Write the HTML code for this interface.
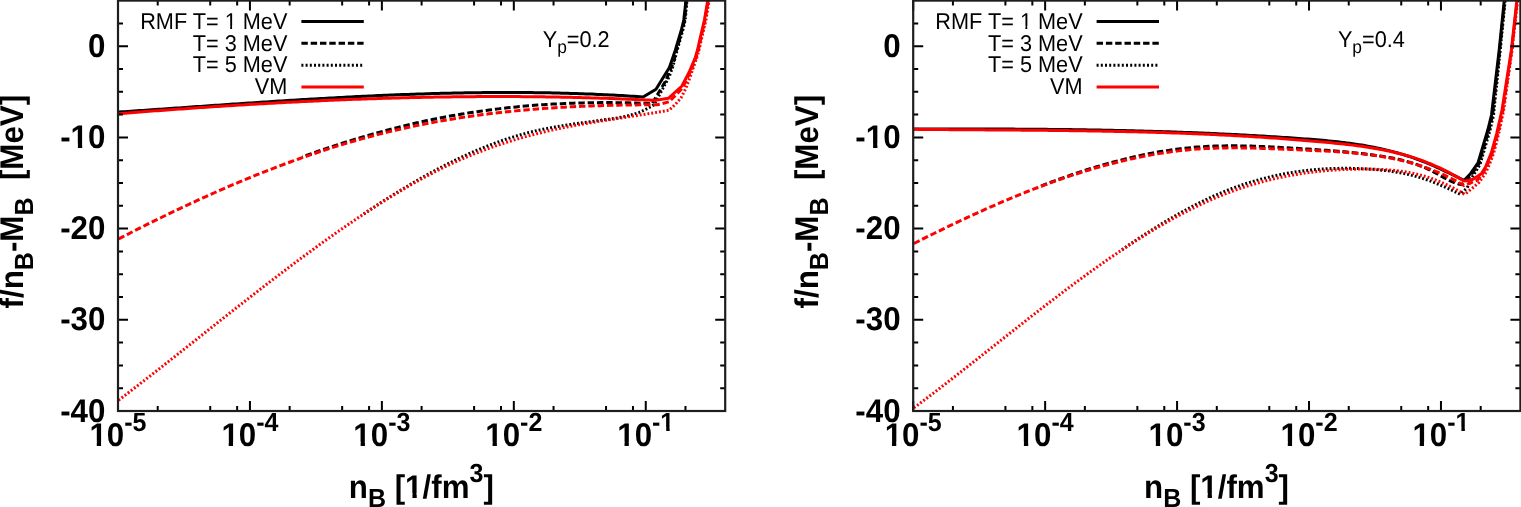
<!DOCTYPE html>
<html><head><meta charset="utf-8"><title>f/nB-MB vs nB</title>
<style>html,body{margin:0;padding:0;background:#fff;overflow:hidden}svg{display:block}text{text-rendering:geometricPrecision}</style></head>
<body><svg width="1521" height="507" viewBox="0 0 1521 507">
<rect width="1521" height="507" fill="#fff"/>
<clipPath id="c0"><rect x="118" y="0.1" width="607.2" height="410.9"/></clipPath>
<g clip-path="url(#c0)">
<path d="M118.9 112.05 L121.91 111.84 L124.93 111.64 L127.94 111.43 L130.95 111.23 L133.96 111.02 L136.98 110.81 L139.99 110.61 L143 110.4 L146.01 110.19 L149.03 109.98 L152.04 109.77 L155.05 109.56 L158.06 109.35 L161.08 109.14 L164.09 108.93 L167.1 108.72 L170.11 108.51 L173.13 108.3 L176.14 108.09 L179.15 107.88 L182.17 107.67 L185.18 107.46 L188.19 107.24 L191.2 107.03 L194.22 106.82 L197.23 106.61 L200.24 106.4 L203.25 106.19 L206.27 105.98 L209.28 105.77 L212.29 105.56 L215.3 105.35 L218.32 105.15 L221.33 104.94 L224.34 104.73 L227.36 104.52 L230.37 104.32 L233.38 104.11 L236.39 103.9 L239.41 103.7 L242.42 103.5 L245.43 103.29 L248.44 103.09 L251.46 102.89 L254.47 102.69 L257.48 102.49 L260.49 102.29 L263.51 102.09 L266.52 101.89 L269.53 101.7 L272.54 101.5 L275.56 101.31 L278.57 101.12 L281.58 100.92 L284.6 100.73 L287.61 100.55 L290.62 100.36 L293.63 100.17 L296.65 99.99 L299.66 99.8 L302.67 99.62 L305.68 99.44 L308.7 99.26 L311.71 99.08 L314.72 98.9 L317.73 98.73 L320.75 98.56 L323.76 98.38 L326.77 98.21 L329.79 98.05 L332.8 97.88 L335.81 97.71 L338.82 97.55 L341.84 97.39 L344.85 97.23 L347.86 97.08 L350.87 96.92 L353.89 96.77 L356.9 96.62 L359.91 96.47 L362.92 96.32 L365.94 96.18 L368.95 96.03 L371.96 95.89 L374.97 95.76 L377.99 95.62 L381 95.49 L384.01 95.36 L387.03 95.23 L390.04 95.1 L393.05 94.98 L396.06 94.86 L399.08 94.74 L402.09 94.62 L405.1 94.51 L408.11 94.4 L411.13 94.29 L414.14 94.19 L417.15 94.08 L420.16 93.99 L423.18 93.89 L426.19 93.79 L429.2 93.7 L432.21 93.62 L435.23 93.53 L438.24 93.45 L441.25 93.37 L444.27 93.29 L447.28 93.22 L450.29 93.15 L453.3 93.09 L456.32 93.02 L459.33 92.96 L462.34 92.91 L465.35 92.85 L468.37 92.81 L471.38 92.76 L474.39 92.72 L477.4 92.68 L480.42 92.64 L483.43 92.61 L486.44 92.58 L489.46 92.56 L492.47 92.53 L495.48 92.52 L498.49 92.5 L501.51 92.49 L504.52 92.49 L507.53 92.48 L510.54 92.49 L513.56 92.49 L516.57 92.5 L519.58 92.51 L522.59 92.53 L525.61 92.55 L528.62 92.58 L531.63 92.61 L534.64 92.64 L537.66 92.68 L540.67 92.72 L543.68 92.77 L546.7 92.82 L549.71 92.87 L552.72 92.93 L555.73 93 L558.75 93.07 L561.76 93.14 L564.77 93.22 L567.78 93.3 L570.8 93.39 L573.81 93.48 L576.82 93.57 L579.83 93.67 L582.85 93.78 L585.86 93.89 L588.87 94 L591.89 94.12 L594.9 94.25 L597.91 94.38 L600.92 94.51 L603.94 94.65 L606.95 94.8 L609.96 94.95 L612.97 95.1 L615.99 95.26 L619 95.43 L622.01 95.6 L625.02 95.77 L628.04 95.95 L631.05 96.14 L634.06 96.33 L637.07 96.53 L640.09 96.73 L643.1 96.94 L656 89.2 L669.4 67.5 L675.4 50 L681.5 29.4 L683.8 20 L686 0 L686.4 -2" stroke="#000" stroke-width="3.0" fill="none" stroke-linejoin="round"/>
<path d="M302.43 156.87 L305.44 155.78 L308.45 154.7 L311.47 153.63 L314.48 152.57 L317.49 151.52 L320.51 150.48 L323.52 149.45 L326.54 148.43 L329.55 147.42 L332.56 146.42 L335.58 145.43 L338.59 144.45 L341.6 143.48 L344.62 142.52 L347.63 141.57 L350.64 140.64 L353.66 139.71 L356.67 138.79 L359.68 137.89 L362.7 136.99 L365.71 136.11 L368.73 135.23 L371.74 134.37 L374.75 133.52 L377.77 132.68 L380.78 131.85 L383.79 131.04 L386.81 130.23 L389.82 129.44 L392.83 128.66 L395.85 127.89 L398.86 127.13 L401.87 126.38 L404.89 125.64 L407.9 124.92 L410.92 124.21 L413.93 123.51 L416.94 122.83 L419.96 122.15 L422.97 121.49 L425.98 120.84 L429 120.2 L432.01 119.58 L435.02 118.97 L438.04 118.37 L441.05 117.78 L444.06 117.21 L447.08 116.64 L450.09 116.09 L453.11 115.55 L456.12 115.02 L459.13 114.51 L462.15 114.01 L465.16 113.51 L468.17 113.03 L471.19 112.57 L474.2 112.11 L477.21 111.66 L480.23 111.23 L483.24 110.81 L486.25 110.4 L489.27 110 L492.28 109.61 L495.29 109.23 L498.31 108.87 L501.32 108.51 L504.34 108.17 L507.35 107.83 L510.36 107.51 L513.38 107.2 L516.39 106.9 L519.4 106.61 L522.42 106.33 L525.43 106.06 L528.44 105.8 L531.46 105.56 L534.47 105.32 L537.48 105.09 L540.5 104.88 L543.51 104.67 L546.53 104.47 L549.54 104.29 L552.55 104.11 L555.57 103.95 L558.58 103.79 L561.59 103.65 L564.61 103.51 L567.62 103.38 L570.63 103.27 L573.65 103.16 L576.66 103.06 L579.67 102.97 L582.69 102.9 L585.7 102.83 L588.72 102.77 L591.73 102.72 L594.74 102.68 L597.76 102.64 L600.77 102.62 L603.78 102.61 L606.8 102.6 L609.81 102.61 L612.82 102.62 L615.84 102.64 L618.85 102.67 L621.86 102.71 L624.88 102.76 L627.89 102.82 L630.91 102.89 L633.92 102.96 L636.93 103.04 L639.95 103.13 L642.96 103.23 L645.97 103.34 L648.99 103.45 L652 103.58 L657.5 94.5 L665.5 81.3 L673.8 61.2 L676.5 50 L682.3 29.4 L684.6 20 L686.6 0 L687 -2" stroke="#000" stroke-width="3.0" fill="none" stroke-dasharray="6.4 2.9" stroke-dashoffset="201.18"/>
<path d="M362.27 214.96 L365.28 212.94 L368.29 210.94 L371.3 208.94 L374.31 206.96 L377.32 205 L380.33 203.05 L383.34 201.11 L386.35 199.19 L389.36 197.28 L392.37 195.39 L395.38 193.51 L398.39 191.66 L401.4 189.82 L404.41 187.99 L407.42 186.18 L410.43 184.4 L413.44 182.63 L416.45 180.88 L419.46 179.14 L422.46 177.43 L425.47 175.74 L428.48 174.07 L431.49 172.42 L434.5 170.79 L437.51 169.18 L440.52 167.59 L443.53 166.03 L446.54 164.49 L449.55 162.97 L452.56 161.47 L455.57 160 L458.58 158.55 L461.59 157.13 L464.6 155.73 L467.61 154.36 L470.62 153.01 L473.63 151.69 L476.64 150.39 L479.65 149.13 L482.66 147.89 L485.67 146.67 L488.67 145.49 L491.68 144.33 L494.69 143.2 L497.7 142.1 L500.71 141.03 L503.72 139.99 L506.73 138.98 L509.74 138 L512.75 137.06 L515.76 136.14 L518.77 135.25 L521.78 134.4 L524.79 133.58 L527.8 132.79 L530.81 132.04 L533.82 131.31 L536.83 130.62 L539.84 129.96 L542.85 129.32 L545.86 128.71 L548.87 128.12 L551.88 127.55 L554.88 127.01 L557.89 126.48 L560.9 125.98 L563.91 125.49 L566.92 125.01 L569.93 124.55 L572.94 124.11 L575.95 123.67 L578.96 123.24 L581.97 122.82 L584.98 122.41 L587.99 122 L591 121.6 L594.01 121.19 L597.02 120.79 L600.03 120.39 L603.04 119.98 L606.05 119.58 L609.06 119.16 L612.07 118.73 L615.08 118.28 L618.09 117.79 L621.09 117.25 L624.1 116.65 L627.11 115.98 L630.12 115.22 L633.13 114.36 L636.14 113.39 L639.15 112.29 L642.16 111.06 L645.17 109.69 L648.18 108.15 L651.19 106.44 L654.2 104.54 L658.3 96.9 L662.9 88.4 L669.2 76.6 L672.7 67.1 L677.2 50 L683 29.4 L685.2 20 L687 0 L687.4 -2" stroke="#000" stroke-width="3.0" fill="none" stroke-dasharray="1.9 2.0" stroke-dashoffset="306.28"/>
<path d="M118.9 113.68 L121.91 113.44 L124.92 113.2 L127.94 112.96 L130.95 112.72 L133.96 112.48 L136.97 112.25 L139.98 112.01 L142.99 111.78 L146.01 111.55 L149.02 111.32 L152.03 111.09 L155.04 110.86 L158.05 110.64 L161.07 110.41 L164.08 110.19 L167.09 109.97 L170.1 109.75 L173.11 109.53 L176.12 109.31 L179.14 109.09 L182.15 108.88 L185.16 108.66 L188.17 108.45 L191.18 108.24 L194.19 108.03 L197.21 107.82 L200.22 107.62 L203.23 107.41 L206.24 107.21 L209.25 107.01 L212.27 106.81 L215.28 106.61 L218.29 106.41 L221.3 106.22 L224.31 106.02 L227.32 105.83 L230.34 105.64 L233.35 105.45 L236.36 105.27 L239.37 105.08 L242.38 104.9 L245.4 104.71 L248.41 104.53 L251.42 104.36 L254.43 104.18 L257.44 104 L260.45 103.83 L263.47 103.66 L266.48 103.49 L269.49 103.32 L272.5 103.15 L275.51 102.99 L278.53 102.83 L281.54 102.66 L284.55 102.51 L287.56 102.35 L290.57 102.19 L293.58 102.04 L296.6 101.89 L299.61 101.74 L302.62 101.59 L305.63 101.44 L308.64 101.3 L311.66 101.16 L314.67 101.02 L317.68 100.88 L320.69 100.74 L323.7 100.61 L326.71 100.47 L329.73 100.34 L332.74 100.21 L335.75 100.09 L338.76 99.96 L341.77 99.84 L344.78 99.72 L347.8 99.6 L350.81 99.49 L353.82 99.37 L356.83 99.26 L359.84 99.15 L362.86 99.04 L365.87 98.94 L368.88 98.83 L371.89 98.73 L374.9 98.63 L377.91 98.53 L380.93 98.44 L383.94 98.35 L386.95 98.26 L389.96 98.17 L392.97 98.08 L395.99 98 L399 97.92 L402.01 97.84 L405.02 97.76 L408.03 97.69 L411.04 97.61 L414.06 97.54 L417.07 97.47 L420.08 97.41 L423.09 97.35 L426.1 97.28 L429.12 97.23 L432.13 97.17 L435.14 97.12 L438.15 97.06 L441.16 97.02 L444.17 96.97 L447.19 96.92 L450.2 96.88 L453.21 96.84 L456.22 96.81 L459.23 96.77 L462.24 96.74 L465.26 96.71 L468.27 96.68 L471.28 96.66 L474.29 96.64 L477.3 96.62 L480.32 96.6 L483.33 96.59 L486.34 96.58 L489.35 96.57 L492.36 96.56 L495.37 96.56 L498.39 96.56 L501.4 96.56 L504.41 96.56 L507.42 96.57 L510.43 96.58 L513.45 96.59 L516.46 96.6 L519.47 96.62 L522.48 96.64 L525.49 96.67 L528.5 96.69 L531.52 96.72 L534.53 96.75 L537.54 96.78 L540.55 96.82 L543.56 96.86 L546.58 96.9 L549.59 96.95 L552.6 97 L555.61 97.05 L558.62 97.1 L561.63 97.16 L564.65 97.21 L567.66 97.28 L570.67 97.34 L573.68 97.41 L576.69 97.48 L579.71 97.55 L582.72 97.63 L585.73 97.71 L588.74 97.79 L591.75 97.88 L594.76 97.97 L597.78 98.06 L600.79 98.15 L603.8 98.25 L606.81 98.35 L609.82 98.45 L612.83 98.56 L615.85 98.67 L618.86 98.78 L621.87 98.9 L624.88 99.02 L627.89 99.14 L630.91 99.26 L633.92 99.39 L636.93 99.52 L639.94 99.66 L642.95 99.8 L645.96 99.94 L648.98 100.08 L651.99 100.23 L655 100.38 L668.4 98.3 L681.9 86 L689 72.5 L695.2 57.8 L697.5 50 L699.6 40.5 L704.4 20 L707.8 0 L708.2 -2" stroke="#f00" stroke-width="3.0" fill="none" stroke-linejoin="round"/>
<path d="M118.6 238.95 L121.61 237.39 L124.62 235.84 L127.63 234.3 L130.64 232.76 L133.65 231.23 L136.66 229.7 L139.67 228.18 L142.68 226.67 L145.69 225.17 L148.7 223.67 L151.71 222.17 L154.72 220.69 L157.73 219.21 L160.74 217.74 L163.75 216.27 L166.76 214.81 L169.77 213.36 L172.78 211.92 L175.79 210.48 L178.8 209.05 L181.81 207.63 L184.82 206.22 L187.83 204.81 L190.84 203.41 L193.85 202.02 L196.86 200.63 L199.87 199.26 L202.88 197.89 L205.89 196.53 L208.9 195.18 L211.91 193.83 L214.92 192.5 L217.93 191.17 L220.94 189.85 L223.95 188.54 L226.96 187.24 L229.97 185.95 L232.98 184.66 L235.99 183.38 L239 182.12 L242.01 180.86 L245.02 179.61 L248.03 178.37 L251.04 177.14 L254.05 175.92 L257.06 174.7 L260.07 173.5 L263.08 172.31 L266.09 171.12 L269.1 169.95 L272.11 168.78 L275.12 167.63 L278.13 166.48 L281.14 165.34 L284.15 164.22 L287.16 163.1 L290.17 162 L293.18 160.9 L296.19 159.82 L299.2 158.74 L302.21 157.68 L305.22 156.62 L308.23 155.58 L311.24 154.55 L314.25 153.52 L317.26 152.51 L320.27 151.51 L323.28 150.52 L326.29 149.54 L329.3 148.58 L332.31 147.62 L335.32 146.67 L338.33 145.74 L341.34 144.82 L344.35 143.91 L347.36 143.01 L350.37 142.12 L353.38 141.24 L356.39 140.38 L359.4 139.52 L362.41 138.68 L365.42 137.86 L368.43 137.04 L371.44 136.23 L374.45 135.44 L377.46 134.66 L380.47 133.89 L383.48 133.14 L386.49 132.39 L389.51 131.66 L392.52 130.95 L395.53 130.24 L398.54 129.54 L401.55 128.86 L404.56 128.19 L407.57 127.53 L410.58 126.89 L413.59 126.25 L416.6 125.63 L419.61 125.01 L422.62 124.41 L425.63 123.82 L428.64 123.24 L431.65 122.67 L434.66 122.12 L437.67 121.57 L440.68 121.03 L443.69 120.51 L446.7 119.99 L449.71 119.49 L452.72 119 L455.73 118.51 L458.74 118.04 L461.75 117.58 L464.76 117.12 L467.77 116.68 L470.78 116.25 L473.79 115.82 L476.8 115.41 L479.81 115.01 L482.82 114.61 L485.83 114.23 L488.84 113.85 L491.85 113.48 L494.86 113.12 L497.87 112.78 L500.88 112.44 L503.89 112.1 L506.9 111.78 L509.91 111.47 L512.92 111.16 L515.93 110.87 L518.94 110.58 L521.95 110.3 L524.96 110.03 L527.97 109.76 L530.98 109.51 L533.99 109.26 L537 109.02 L540.01 108.79 L543.02 108.56 L546.03 108.35 L549.04 108.14 L552.05 107.93 L555.06 107.74 L558.07 107.55 L561.08 107.37 L564.09 107.2 L567.1 107.03 L570.11 106.87 L573.12 106.72 L576.13 106.57 L579.14 106.43 L582.15 106.3 L585.16 106.17 L588.17 106.05 L591.18 105.93 L594.19 105.83 L597.2 105.72 L600.21 105.63 L603.22 105.54 L606.23 105.45 L609.24 105.37 L612.25 105.3 L615.26 105.23 L618.27 105.17 L621.28 105.11 L624.29 105.06 L627.3 105.01 L630.31 104.97 L633.32 104.93 L636.33 104.9 L639.34 104.87 L642.35 104.85 L645.36 104.83 L648.37 104.81 L651.38 104.8 L654.39 104.8 L657.4 104.8 L669.2 101.8 L682.4 88.2 L689.6 73.5 L695.8 58.5 L698.2 50.5 L700.3 41 L705 20.2 L708.5 0 L708.9 -2" stroke="#f00" stroke-width="3.0" fill="none" stroke-dasharray="6.4 2.9"/>
<path d="M118.5 400.31 L121.51 398.02 L124.52 395.72 L127.53 393.42 L130.54 391.11 L133.55 388.79 L136.56 386.46 L139.57 384.13 L142.57 381.8 L145.58 379.46 L148.59 377.12 L151.6 374.77 L154.61 372.42 L157.62 370.06 L160.63 367.7 L163.64 365.34 L166.65 362.97 L169.66 360.6 L172.67 358.23 L175.68 355.86 L178.69 353.48 L181.7 351.1 L184.7 348.72 L187.71 346.34 L190.72 343.96 L193.73 341.58 L196.74 339.2 L199.75 336.81 L202.76 334.43 L205.77 332.05 L208.78 329.66 L211.79 327.28 L214.8 324.9 L217.81 322.52 L220.82 320.15 L223.83 317.77 L226.83 315.4 L229.84 313.03 L232.85 310.66 L235.86 308.29 L238.87 305.93 L241.88 303.57 L244.89 301.22 L247.9 298.86 L250.91 296.52 L253.92 294.17 L256.93 291.84 L259.94 289.5 L262.95 287.18 L265.96 284.86 L268.96 282.54 L271.97 280.23 L274.98 277.92 L277.99 275.63 L281 273.34 L284.01 271.05 L287.02 268.78 L290.03 266.51 L293.04 264.25 L296.05 262 L299.06 259.75 L302.07 257.52 L305.08 255.29 L308.09 253.07 L311.09 250.87 L314.1 248.67 L317.11 246.48 L320.12 244.3 L323.13 242.14 L326.14 239.98 L329.15 237.83 L332.16 235.7 L335.17 233.58 L338.18 231.47 L341.19 229.37 L344.2 227.28 L347.21 225.21 L350.22 223.15 L353.22 221.1 L356.23 219.06 L359.24 217.04 L362.25 215.04 L365.26 213.04 L368.27 211.06 L371.28 209.1 L374.29 207.15 L377.3 205.22 L380.31 203.3 L383.32 201.4 L386.33 199.52 L389.34 197.65 L392.35 195.8 L395.35 193.97 L398.36 192.16 L401.37 190.37 L404.38 188.59 L407.39 186.84 L410.4 185.11 L413.41 183.4 L416.42 181.71 L419.43 180.04 L422.44 178.39 L425.45 176.77 L428.46 175.17 L431.47 173.59 L434.48 172.04 L437.48 170.52 L440.49 169.01 L443.5 167.54 L446.51 166.09 L449.52 164.66 L452.53 163.26 L455.54 161.89 L458.55 160.55 L461.56 159.23 L464.57 157.93 L467.58 156.66 L470.59 155.42 L473.6 154.19 L476.61 153 L479.61 151.82 L482.62 150.67 L485.63 149.55 L488.64 148.45 L491.65 147.37 L494.66 146.31 L497.67 145.27 L500.68 144.26 L503.69 143.27 L506.7 142.3 L509.71 141.35 L512.72 140.42 L515.73 139.51 L518.74 138.62 L521.74 137.76 L524.75 136.91 L527.76 136.08 L530.77 135.27 L533.78 134.48 L536.79 133.71 L539.8 132.96 L542.81 132.23 L545.82 131.51 L548.83 130.81 L551.84 130.13 L554.85 129.46 L557.86 128.82 L560.87 128.19 L563.87 127.57 L566.88 126.97 L569.89 126.39 L572.9 125.82 L575.91 125.26 L578.92 124.72 L581.93 124.18 L584.94 123.66 L587.95 123.15 L590.96 122.65 L593.97 122.15 L596.98 121.67 L599.99 121.19 L603 120.71 L606 120.24 L609.01 119.78 L612.02 119.32 L615.03 118.86 L618.04 118.41 L621.05 117.95 L624.06 117.5 L627.07 117.04 L630.08 116.59 L633.09 116.13 L636.1 115.67 L639.11 115.2 L642.12 114.73 L645.13 114.26 L648.13 113.77 L651.14 113.29 L654.15 112.79 L657.16 112.29 L660.17 111.77 L663.18 111.25 L666.19 110.71 L669.2 110.16 L675.5 104.2 L681 97.9 L685.8 88.4 L689.7 78.2 L693.5 67 L697 57 L699 50 L701 41 L705.8 20.4 L709.2 0 L709.6 -2" stroke="#f00" stroke-width="3.0" fill="none" stroke-dasharray="1.9 2.0"/>
</g>
<path d="M118 411 v-10 M118 0.6 v10 M157.72 411 v-5 M157.72 0.6 v5 M210.22 411 v-5 M210.22 0.6 v5 M237.15 411 v-5 M237.15 0.6 v5 M249.94 411 v-10 M249.94 0.6 v10 M289.66 411 v-5 M289.66 0.6 v5 M342.16 411 v-5 M342.16 0.6 v5 M369.09 411 v-5 M369.09 0.6 v5 M381.88 411 v-10 M381.88 0.6 v10 M421.6 411 v-5 M421.6 0.6 v5 M474.1 411 v-5 M474.1 0.6 v5 M501.03 411 v-5 M501.03 0.6 v5 M513.82 411 v-10 M513.82 0.6 v10 M553.54 411 v-5 M553.54 0.6 v5 M606.04 411 v-5 M606.04 0.6 v5 M632.97 411 v-5 M632.97 0.6 v5 M645.76 411 v-10 M645.76 0.6 v10 M685.48 411 v-5 M685.48 0.6 v5 M118 23.4 h5 M725.2 23.4 h-5 M118 46.2 h10 M725.2 46.2 h-10 M118 69 h5 M725.2 69 h-5 M118 91.8 h5 M725.2 91.8 h-5 M118 114.6 h5 M725.2 114.6 h-5 M118 137.4 h10 M725.2 137.4 h-10 M118 160.2 h5 M725.2 160.2 h-5 M118 183 h5 M725.2 183 h-5 M118 205.8 h5 M725.2 205.8 h-5 M118 228.6 h10 M725.2 228.6 h-10 M118 251.4 h5 M725.2 251.4 h-5 M118 274.2 h5 M725.2 274.2 h-5 M118 297 h5 M725.2 297 h-5 M118 319.8 h10 M725.2 319.8 h-10 M118 342.6 h5 M725.2 342.6 h-5 M118 365.4 h5 M725.2 365.4 h-5 M118 388.2 h5 M725.2 388.2 h-5" stroke="#000" stroke-width="2" fill="none"/>
<rect x="118" y="0.6" width="607.2" height="410.4" fill="none" stroke="#1e1e1e" stroke-width="2.2"/>
<text transform="translate(105.4 56.7) scale(1 1.05)" text-anchor="end" style="font-family:'Liberation Sans',Arial,sans-serif;font-weight:bold;font-size:31.3px">0</text>
<text transform="translate(105.4 147.9) scale(1 1.05)" text-anchor="end" style="font-family:'Liberation Sans',Arial,sans-serif;font-weight:bold;font-size:31.3px">-10</text>
<text transform="translate(105.4 239.1) scale(1 1.05)" text-anchor="end" style="font-family:'Liberation Sans',Arial,sans-serif;font-weight:bold;font-size:31.3px">-20</text>
<text transform="translate(105.4 330.3) scale(1 1.05)" text-anchor="end" style="font-family:'Liberation Sans',Arial,sans-serif;font-weight:bold;font-size:31.3px">-30</text>
<text transform="translate(105.4 421.5) scale(1 1.05)" text-anchor="end" style="font-family:'Liberation Sans',Arial,sans-serif;font-weight:bold;font-size:31.3px">-40</text>
<text transform="translate(89.46 446.3) scale(1 1.05)" style="font-family:'Liberation Sans',Arial,sans-serif;font-weight:bold;font-size:31.3px">10<tspan dy="-14.29" style="font-size:25.04px">-5</tspan></text>
<text transform="translate(221.4 446.3) scale(1 1.05)" style="font-family:'Liberation Sans',Arial,sans-serif;font-weight:bold;font-size:31.3px">10<tspan dy="-14.29" style="font-size:25.04px">-4</tspan></text>
<text transform="translate(353.34 446.3) scale(1 1.05)" style="font-family:'Liberation Sans',Arial,sans-serif;font-weight:bold;font-size:31.3px">10<tspan dy="-14.29" style="font-size:25.04px">-3</tspan></text>
<text transform="translate(485.28 446.3) scale(1 1.05)" style="font-family:'Liberation Sans',Arial,sans-serif;font-weight:bold;font-size:31.3px">10<tspan dy="-14.29" style="font-size:25.04px">-2</tspan></text>
<text transform="translate(617.22 446.3) scale(1 1.05)" style="font-family:'Liberation Sans',Arial,sans-serif;font-weight:bold;font-size:31.3px">10<tspan dy="-14.29" style="font-size:25.04px">-1</tspan></text>
<text transform="translate(348.8 497.6) scale(1 1.05)" style="font-family:'Liberation Sans',Arial,sans-serif;font-weight:bold;font-size:31.3px">n<tspan dy="8.48" style="font-size:25.04px">B</tspan><tspan dy="-8.48"> [1/fm</tspan><tspan dy="-14.48" style="font-size:25.04px">3</tspan><tspan dy="14.48">]</tspan></text>
<text transform="translate(23.2 308.4) rotate(-90) scale(1 1.05)" x="0" y="0" style="font-family:'Liberation Sans',Arial,sans-serif;font-weight:bold;font-size:31.3px;white-space:pre" xml:space="preserve">f/n<tspan dy="9.52" style="font-size:25.04px">B</tspan><tspan dy="-9.52">-M</tspan><tspan dy="9.52" style="font-size:25.04px">B</tspan><tspan dy="-9.52">  [MeV]</tspan></text>
<text transform="translate(287.4 28.8) scale(1 1.05)" text-anchor="end" style="font-family:'Liberation Sans',Arial,sans-serif;font-size:21.7px">RMF T= 1 MeV</text>
<text transform="translate(287.4 50.5) scale(1 1.05)" text-anchor="end" style="font-family:'Liberation Sans',Arial,sans-serif;font-size:21.7px">T= 3 MeV</text>
<text transform="translate(287.4 72.2) scale(1 1.05)" text-anchor="end" style="font-family:'Liberation Sans',Arial,sans-serif;font-size:21.7px">T= 5 MeV</text>
<text transform="translate(287.4 93.9) scale(1 1.05)" text-anchor="end" style="font-family:'Liberation Sans',Arial,sans-serif;font-size:21.7px">VM</text>
<path d="M301.4 21.6 H363.8" stroke="#000" stroke-width="3.0" fill="none"/>
<path d="M301.4 43.3 H363.8" stroke="#000" stroke-dasharray="6.4 2.9" stroke-width="3.0" fill="none"/>
<path d="M301.4 65.2 H363.8" stroke="#000" stroke-dasharray="2.0 2.2" stroke-width="3.0" fill="none"/>
<path d="M301.4 87 H363.8" stroke="#f00" stroke-width="3.0" fill="none"/>
<text transform="translate(542.7 46.6) scale(1 1.05)" style="font-family:'Liberation Sans',Arial,sans-serif;font-size:21.7px">Y<tspan dy="6" style="font-size:17.36px">p</tspan><tspan dy="-6">=0.2</tspan></text>
<clipPath id="c795"><rect x="913.2" y="0.1" width="607.2" height="410.9"/></clipPath>
<g clip-path="url(#c795)">
<path d="M914 129.05 L917 129.04 L920.01 129.03 L923.01 129.02 L926.02 129.02 L929.02 129.01 L932.03 129.01 L935.03 129 L938.04 129 L941.04 128.99 L944.05 128.99 L947.05 128.99 L950.06 128.99 L953.06 128.98 L956.07 128.98 L959.07 128.98 L962.08 128.98 L965.08 128.98 L968.09 128.98 L971.09 128.99 L974.1 128.99 L977.1 128.99 L980.11 129 L983.11 129 L986.12 129.01 L989.12 129.02 L992.13 129.03 L995.13 129.04 L998.14 129.05 L1001.14 129.06 L1004.15 129.07 L1007.15 129.08 L1010.16 129.1 L1013.16 129.11 L1016.17 129.13 L1019.17 129.14 L1022.18 129.16 L1025.18 129.18 L1028.19 129.2 L1031.19 129.22 L1034.2 129.25 L1037.2 129.27 L1040.21 129.3 L1043.21 129.32 L1046.22 129.35 L1049.22 129.38 L1052.23 129.41 L1055.23 129.44 L1058.24 129.48 L1061.24 129.51 L1064.25 129.55 L1067.25 129.58 L1070.26 129.62 L1073.26 129.66 L1076.27 129.7 L1079.27 129.75 L1082.28 129.79 L1085.28 129.84 L1088.29 129.89 L1091.29 129.94 L1094.3 129.99 L1097.3 130.04 L1100.3 130.1 L1103.31 130.15 L1106.31 130.21 L1109.32 130.27 L1112.32 130.33 L1115.33 130.39 L1118.33 130.46 L1121.34 130.53 L1124.34 130.59 L1127.35 130.66 L1130.35 130.74 L1133.36 130.81 L1136.36 130.89 L1139.37 130.97 L1142.37 131.05 L1145.38 131.13 L1148.38 131.21 L1151.39 131.3 L1154.39 131.39 L1157.4 131.48 L1160.4 131.57 L1163.41 131.66 L1166.41 131.76 L1169.42 131.86 L1172.42 131.96 L1175.43 132.06 L1178.43 132.17 L1181.44 132.27 L1184.44 132.38 L1187.45 132.5 L1190.45 132.61 L1193.46 132.73 L1196.46 132.85 L1199.47 132.97 L1202.47 133.09 L1205.48 133.22 L1208.48 133.35 L1211.49 133.48 L1214.49 133.61 L1217.5 133.75 L1220.5 133.89 L1223.51 134.03 L1226.51 134.17 L1229.52 134.32 L1232.52 134.47 L1235.53 134.62 L1238.53 134.77 L1241.54 134.93 L1244.54 135.09 L1247.55 135.25 L1250.55 135.42 L1253.56 135.58 L1256.56 135.76 L1259.57 135.93 L1262.57 136.1 L1265.58 136.28 L1268.58 136.47 L1271.59 136.65 L1274.59 136.84 L1277.6 137.03 L1280.6 137.22 L1283.6 137.42 L1286.61 137.62 L1289.61 137.82 L1292.62 138.03 L1295.62 138.24 L1298.63 138.45 L1301.63 138.66 L1304.64 138.88 L1307.64 139.11 L1310.65 139.34 L1313.65 139.57 L1316.66 139.82 L1319.66 140.07 L1322.67 140.33 L1325.67 140.61 L1328.68 140.89 L1331.68 141.19 L1334.69 141.5 L1337.69 141.83 L1340.7 142.17 L1343.7 142.53 L1346.71 142.91 L1349.71 143.31 L1352.72 143.72 L1355.72 144.16 L1358.73 144.62 L1361.73 145.1 L1364.74 145.6 L1367.74 146.13 L1370.75 146.69 L1373.75 147.27 L1376.76 147.88 L1379.76 148.51 L1382.77 149.18 L1385.77 149.88 L1388.78 150.61 L1391.78 151.37 L1394.79 152.16 L1397.79 152.99 L1400.8 153.86 L1403.8 154.76 L1406.81 155.7 L1409.81 156.68 L1412.82 157.69 L1415.82 158.75 L1418.83 159.85 L1421.83 160.99 L1424.84 162.18 L1427.84 163.41 L1430.85 164.68 L1433.85 165.99 L1436.86 167.34 L1439.86 168.72 L1442.87 170.13 L1445.87 171.57 L1448.88 173.02 L1451.88 174.49 L1454.89 175.97 L1457.89 177.46 L1460.9 178.95 L1463.9 180.44 L1470 174.3 L1478 162.9 L1487.8 130 L1491.5 115 L1499.2 50 L1504.3 0 L1504.5 -2" stroke="#000" stroke-width="3.0" fill="none" stroke-linejoin="round"/>
<path d="M1040.29 186.32 L1043.3 185.16 L1046.31 184.01 L1049.32 182.87 L1052.33 181.74 L1055.34 180.63 L1058.35 179.53 L1061.36 178.44 L1064.37 177.37 L1067.38 176.31 L1070.39 175.26 L1073.4 174.23 L1076.4 173.22 L1079.41 172.22 L1082.42 171.23 L1085.43 170.26 L1088.44 169.3 L1091.45 168.36 L1094.46 167.44 L1097.47 166.53 L1100.48 165.64 L1103.49 164.76 L1106.5 163.9 L1109.51 163.06 L1112.52 162.24 L1115.53 161.43 L1118.54 160.64 L1121.54 159.87 L1124.55 159.12 L1127.56 158.38 L1130.57 157.67 L1133.58 156.97 L1136.59 156.29 L1139.6 155.63 L1142.61 155 L1145.62 154.38 L1148.63 153.78 L1151.64 153.2 L1154.65 152.64 L1157.66 152.1 L1160.67 151.59 L1163.68 151.09 L1166.68 150.62 L1169.69 150.16 L1172.7 149.73 L1175.71 149.33 L1178.72 148.94 L1181.73 148.58 L1184.74 148.23 L1187.75 147.92 L1190.76 147.62 L1193.77 147.35 L1196.78 147.1 L1199.79 146.88 L1202.8 146.68 L1205.81 146.5 L1208.82 146.34 L1211.82 146.21 L1214.83 146.1 L1217.84 146.01 L1220.85 145.93 L1223.86 145.88 L1226.87 145.84 L1229.88 145.82 L1232.89 145.82 L1235.9 145.83 L1238.91 145.86 L1241.92 145.91 L1244.93 145.96 L1247.94 146.03 L1250.95 146.12 L1253.96 146.21 L1256.96 146.32 L1259.97 146.43 L1262.98 146.56 L1265.99 146.69 L1269 146.83 L1272.01 146.98 L1275.02 147.14 L1278.03 147.3 L1281.04 147.47 L1284.05 147.64 L1287.06 147.81 L1290.07 147.99 L1293.08 148.17 L1296.09 148.36 L1299.1 148.54 L1302.1 148.73 L1305.11 148.91 L1308.12 149.1 L1311.13 149.29 L1314.14 149.48 L1317.15 149.68 L1320.16 149.88 L1323.17 150.09 L1326.18 150.31 L1329.19 150.53 L1332.2 150.75 L1335.21 150.99 L1338.22 151.24 L1341.23 151.49 L1344.24 151.76 L1347.25 152.03 L1350.25 152.32 L1353.26 152.62 L1356.27 152.94 L1359.28 153.27 L1362.29 153.61 L1365.3 153.97 L1368.31 154.35 L1371.32 154.74 L1374.33 155.15 L1377.34 155.58 L1380.35 156.02 L1383.36 156.49 L1386.37 156.99 L1389.38 157.52 L1392.39 158.09 L1395.39 158.69 L1398.4 159.34 L1401.41 160.04 L1404.42 160.8 L1407.43 161.61 L1410.44 162.49 L1413.45 163.44 L1416.46 164.45 L1419.47 165.55 L1422.48 166.73 L1425.49 167.99 L1428.5 169.35 L1431.51 170.8 L1434.52 172.35 L1437.53 174 L1440.53 175.69 L1443.54 177.38 L1446.55 179.02 L1449.56 180.56 L1452.57 181.95 L1455.58 183.13 L1458.59 184.04 L1461.6 184.61 L1471 175.4 L1479 163.5 L1488.8 130.5 L1492.5 115.5 L1499.7 50.3 L1504.8 0 L1505 -2" stroke="#000" stroke-width="3.0" fill="none" stroke-dasharray="6.4 2.9" stroke-dashoffset="138.69"/>
<path d="M1120.94 250.47 L1123.94 248.4 L1126.94 246.34 L1129.94 244.3 L1132.94 242.28 L1135.94 240.27 L1138.94 238.28 L1141.94 236.3 L1144.94 234.35 L1147.94 232.42 L1150.94 230.5 L1153.94 228.61 L1156.94 226.73 L1159.95 224.88 L1162.95 223.05 L1165.95 221.25 L1168.95 219.47 L1171.95 217.71 L1174.95 215.97 L1177.95 214.26 L1180.95 212.58 L1183.95 210.93 L1186.95 209.3 L1189.95 207.69 L1192.95 206.12 L1195.95 204.58 L1198.95 203.06 L1201.95 201.58 L1204.95 200.12 L1207.95 198.7 L1210.95 197.31 L1213.95 195.95 L1216.96 194.62 L1219.96 193.33 L1222.96 192.07 L1225.96 190.85 L1228.96 189.66 L1231.96 188.51 L1234.96 187.4 L1237.96 186.31 L1240.96 185.27 L1243.96 184.25 L1246.96 183.27 L1249.96 182.33 L1252.96 181.42 L1255.96 180.54 L1258.96 179.69 L1261.96 178.88 L1264.96 178.1 L1267.96 177.35 L1270.97 176.63 L1273.97 175.95 L1276.97 175.3 L1279.97 174.67 L1282.97 174.08 L1285.97 173.52 L1288.97 172.99 L1291.97 172.49 L1294.97 172.02 L1297.97 171.58 L1300.97 171.17 L1303.97 170.78 L1306.97 170.43 L1309.97 170.1 L1312.97 169.81 L1315.97 169.54 L1318.97 169.29 L1321.97 169.08 L1324.98 168.89 L1327.98 168.73 L1330.98 168.6 L1333.98 168.49 L1336.98 168.41 L1339.98 168.35 L1342.98 168.32 L1345.98 168.31 L1348.98 168.33 L1351.98 168.38 L1354.98 168.45 L1357.98 168.54 L1360.98 168.66 L1363.98 168.8 L1366.98 168.96 L1369.98 169.15 L1372.98 169.36 L1375.98 169.6 L1378.99 169.87 L1381.99 170.17 L1384.99 170.5 L1387.99 170.87 L1390.99 171.27 L1393.99 171.72 L1396.99 172.21 L1399.99 172.74 L1402.99 173.32 L1405.99 173.94 L1408.99 174.62 L1411.99 175.35 L1414.99 176.13 L1417.99 176.97 L1420.99 177.87 L1423.99 178.83 L1426.99 179.85 L1429.99 180.94 L1433 182.08 L1436 183.28 L1439 184.53 L1442 185.81 L1445 187.14 L1448 188.49 L1451 189.87 L1454 191.26 L1457 192.67 L1460 194.09 L1467.1 188 L1472.6 176.5 L1480 164.5 L1489.8 131 L1493.4 116 L1500.2 50.5 L1505.2 0 L1505.4 -2" stroke="#000" stroke-width="3.0" fill="none" stroke-dasharray="1.9 2.0" stroke-dashoffset="260.02"/>
<path d="M914 129.35 L917 129.37 L920.01 129.4 L923.01 129.43 L926.02 129.45 L929.02 129.48 L932.03 129.5 L935.03 129.53 L938.04 129.55 L941.04 129.57 L944.05 129.6 L947.05 129.62 L950.06 129.64 L953.06 129.66 L956.07 129.68 L959.07 129.7 L962.08 129.72 L965.08 129.74 L968.09 129.77 L971.09 129.79 L974.1 129.81 L977.1 129.83 L980.11 129.85 L983.11 129.87 L986.12 129.89 L989.12 129.91 L992.13 129.93 L995.13 129.95 L998.14 129.97 L1001.14 129.99 L1004.15 130.01 L1007.15 130.03 L1010.16 130.05 L1013.16 130.08 L1016.17 130.1 L1019.17 130.12 L1022.18 130.15 L1025.18 130.17 L1028.19 130.2 L1031.19 130.22 L1034.2 130.25 L1037.2 130.28 L1040.21 130.3 L1043.21 130.33 L1046.22 130.36 L1049.22 130.39 L1052.23 130.43 L1055.23 130.46 L1058.24 130.49 L1061.24 130.53 L1064.25 130.56 L1067.25 130.6 L1070.26 130.64 L1073.26 130.68 L1076.27 130.72 L1079.27 130.76 L1082.28 130.8 L1085.28 130.85 L1088.29 130.89 L1091.29 130.94 L1094.3 130.99 L1097.3 131.04 L1100.3 131.09 L1103.31 131.15 L1106.31 131.2 L1109.32 131.26 L1112.32 131.32 L1115.33 131.38 L1118.33 131.44 L1121.34 131.5 L1124.34 131.57 L1127.35 131.64 L1130.35 131.71 L1133.36 131.78 L1136.36 131.85 L1139.37 131.93 L1142.37 132 L1145.38 132.08 L1148.38 132.17 L1151.39 132.25 L1154.39 132.34 L1157.4 132.43 L1160.4 132.52 L1163.41 132.61 L1166.41 132.71 L1169.42 132.81 L1172.42 132.91 L1175.43 133.01 L1178.43 133.12 L1181.44 133.23 L1184.44 133.34 L1187.45 133.45 L1190.45 133.57 L1193.46 133.69 L1196.46 133.81 L1199.47 133.94 L1202.47 134.06 L1205.48 134.2 L1208.48 134.33 L1211.49 134.47 L1214.49 134.61 L1217.5 134.75 L1220.5 134.9 L1223.51 135.05 L1226.51 135.2 L1229.52 135.35 L1232.52 135.51 L1235.53 135.68 L1238.53 135.84 L1241.54 136.01 L1244.54 136.18 L1247.55 136.36 L1250.55 136.54 L1253.56 136.72 L1256.56 136.91 L1259.57 137.1 L1262.57 137.3 L1265.58 137.49 L1268.58 137.69 L1271.59 137.9 L1274.59 138.11 L1277.6 138.32 L1280.6 138.54 L1283.6 138.76 L1286.61 138.99 L1289.61 139.21 L1292.62 139.45 L1295.62 139.68 L1298.63 139.93 L1301.63 140.17 L1304.64 140.42 L1307.64 140.67 L1310.65 140.93 L1313.65 141.19 L1316.66 141.46 L1319.66 141.73 L1322.67 142.01 L1325.67 142.29 L1328.68 142.57 L1331.68 142.86 L1334.69 143.16 L1337.69 143.46 L1340.7 143.77 L1343.7 144.09 L1346.71 144.43 L1349.71 144.77 L1352.72 145.13 L1355.72 145.51 L1358.73 145.9 L1361.73 146.31 L1364.74 146.74 L1367.74 147.19 L1370.75 147.67 L1373.75 148.16 L1376.76 148.69 L1379.76 149.24 L1382.77 149.81 L1385.77 150.42 L1388.78 151.06 L1391.78 151.73 L1394.79 152.43 L1397.79 153.17 L1400.8 153.95 L1403.8 154.76 L1406.81 155.61 L1409.81 156.5 L1412.82 157.43 L1415.82 158.41 L1418.83 159.43 L1421.83 160.5 L1424.84 161.62 L1427.84 162.78 L1430.85 163.99 L1433.85 165.26 L1436.86 166.58 L1439.86 167.95 L1442.87 169.38 L1445.87 170.86 L1448.88 172.41 L1451.88 174.01 L1454.89 175.67 L1457.89 177.4 L1460.9 179.19 L1463.9 181.05 L1469 180.6 L1473.4 179 L1481.3 173.8 L1485.5 167 L1491.4 152.6 L1496.7 133.7 L1502 110 L1511.4 50 L1516.9 0 L1517.2 -2" stroke="#f00" stroke-width="3.0" fill="none" stroke-linejoin="round"/>
<path d="M913.9 243.5 L916.91 241.98 L919.91 240.47 L922.92 238.96 L925.92 237.46 L928.93 235.97 L931.94 234.48 L934.94 233 L937.95 231.53 L940.95 230.06 L943.96 228.6 L946.97 227.14 L949.97 225.7 L952.98 224.26 L955.98 222.83 L958.99 221.4 L962 219.99 L965 218.58 L968.01 217.18 L971.01 215.79 L974.02 214.41 L977.03 213.04 L980.03 211.68 L983.04 210.32 L986.04 208.98 L989.05 207.64 L992.06 206.32 L995.06 205.01 L998.07 203.7 L1001.07 202.41 L1004.08 201.12 L1007.09 199.85 L1010.09 198.59 L1013.1 197.34 L1016.1 196.1 L1019.11 194.87 L1022.12 193.66 L1025.12 192.45 L1028.13 191.26 L1031.13 190.08 L1034.14 188.91 L1037.15 187.76 L1040.15 186.61 L1043.16 185.48 L1046.16 184.37 L1049.17 183.26 L1052.18 182.17 L1055.18 181.1 L1058.19 180.03 L1061.19 178.98 L1064.2 177.95 L1067.21 176.93 L1070.21 175.92 L1073.22 174.93 L1076.22 173.96 L1079.23 172.99 L1082.24 172.05 L1085.24 171.12 L1088.25 170.2 L1091.25 169.3 L1094.26 168.42 L1097.27 167.55 L1100.27 166.7 L1103.28 165.87 L1106.28 165.05 L1109.29 164.25 L1112.3 163.46 L1115.3 162.7 L1118.31 161.95 L1121.31 161.21 L1124.32 160.5 L1127.33 159.8 L1130.33 159.12 L1133.34 158.46 L1136.34 157.82 L1139.35 157.2 L1142.36 156.59 L1145.36 156.01 L1148.37 155.44 L1151.37 154.89 L1154.38 154.37 L1157.39 153.86 L1160.39 153.37 L1163.4 152.9 L1166.4 152.45 L1169.41 152.03 L1172.42 151.62 L1175.42 151.23 L1178.43 150.87 L1181.43 150.52 L1184.44 150.2 L1187.45 149.9 L1190.45 149.62 L1193.46 149.36 L1196.47 149.12 L1199.47 148.91 L1202.48 148.71 L1205.48 148.54 L1208.49 148.39 L1211.5 148.26 L1214.5 148.15 L1217.51 148.06 L1220.51 147.98 L1223.52 147.92 L1226.53 147.88 L1229.53 147.86 L1232.54 147.84 L1235.54 147.85 L1238.55 147.86 L1241.56 147.89 L1244.56 147.93 L1247.57 147.98 L1250.57 148.04 L1253.58 148.11 L1256.59 148.19 L1259.59 148.28 L1262.6 148.38 L1265.6 148.48 L1268.61 148.59 L1271.62 148.71 L1274.62 148.83 L1277.63 148.95 L1280.63 149.08 L1283.64 149.21 L1286.65 149.34 L1289.65 149.47 L1292.66 149.6 L1295.66 149.74 L1298.67 149.87 L1301.68 150 L1304.68 150.13 L1307.69 150.26 L1310.69 150.39 L1313.7 150.52 L1316.71 150.66 L1319.71 150.8 L1322.72 150.94 L1325.72 151.09 L1328.73 151.25 L1331.74 151.42 L1334.74 151.6 L1337.75 151.79 L1340.75 151.99 L1343.76 152.21 L1346.77 152.44 L1349.77 152.68 L1352.78 152.95 L1355.78 153.22 L1358.79 153.52 L1361.8 153.84 L1364.8 154.18 L1367.81 154.54 L1370.81 154.92 L1373.82 155.33 L1376.83 155.76 L1379.83 156.22 L1382.84 156.7 L1385.84 157.22 L1388.85 157.77 L1391.86 158.34 L1394.86 158.95 L1397.87 159.6 L1400.87 160.28 L1403.88 161 L1406.89 161.76 L1409.89 162.56 L1412.9 163.41 L1415.9 164.29 L1418.91 165.22 L1421.92 166.2 L1424.92 167.23 L1427.93 168.3 L1430.93 169.43 L1433.94 170.61 L1436.95 171.84 L1439.95 173.13 L1442.96 174.47 L1445.96 175.87 L1448.97 177.34 L1451.98 178.86 L1454.98 180.45 L1457.99 182.1 L1460.99 183.81 L1464 185.6 L1469.5 183.3 L1477.4 180.1 L1482.5 174 L1487 166 L1492.2 153.5 L1497.5 134.5 L1502.8 111 L1511.6 50.5 L1517.3 0 L1517.6 -2" stroke="#f00" stroke-width="3.0" fill="none" stroke-dasharray="6.4 2.9"/>
<path d="M913.9 407.81 L916.91 405.57 L919.92 403.31 L922.93 401.05 L925.94 398.78 L928.95 396.5 L931.96 394.21 L934.97 391.91 L937.98 389.61 L940.99 387.29 L944 384.97 L947.01 382.65 L950.02 380.31 L953.03 377.97 L956.04 375.63 L959.05 373.28 L962.06 370.93 L965.07 368.57 L968.08 366.2 L971.09 363.84 L974.1 361.47 L977.11 359.1 L980.12 356.73 L983.13 354.35 L986.14 351.97 L989.15 349.6 L992.16 347.22 L995.17 344.84 L998.18 342.46 L1001.19 340.08 L1004.2 337.71 L1007.2 335.33 L1010.21 332.96 L1013.22 330.59 L1016.23 328.22 L1019.24 325.85 L1022.25 323.49 L1025.26 321.13 L1028.27 318.78 L1031.28 316.43 L1034.29 314.09 L1037.3 311.75 L1040.31 309.42 L1043.32 307.09 L1046.33 304.77 L1049.34 302.46 L1052.35 300.16 L1055.36 297.86 L1058.37 295.57 L1061.38 293.29 L1064.39 291.02 L1067.4 288.76 L1070.41 286.51 L1073.42 284.27 L1076.43 282.04 L1079.44 279.82 L1082.45 277.61 L1085.46 275.42 L1088.47 273.24 L1091.48 271.07 L1094.49 268.91 L1097.5 266.77 L1100.51 264.64 L1103.52 262.52 L1106.53 260.43 L1109.54 258.34 L1112.55 256.27 L1115.56 254.22 L1118.57 252.18 L1121.58 250.16 L1124.59 248.16 L1127.6 246.18 L1130.61 244.21 L1133.62 242.26 L1136.63 240.34 L1139.64 238.43 L1142.65 236.54 L1145.66 234.67 L1148.67 232.82 L1151.68 230.99 L1154.69 229.18 L1157.7 227.4 L1160.71 225.63 L1163.72 223.89 L1166.73 222.17 L1169.74 220.48 L1172.75 218.81 L1175.76 217.16 L1178.77 215.54 L1181.78 213.95 L1184.79 212.37 L1187.8 210.83 L1190.8 209.31 L1193.81 207.82 L1196.82 206.35 L1199.83 204.91 L1202.84 203.5 L1205.85 202.12 L1208.86 200.77 L1211.87 199.44 L1214.88 198.15 L1217.89 196.88 L1220.9 195.65 L1223.91 194.44 L1226.92 193.27 L1229.93 192.13 L1232.94 191.01 L1235.95 189.93 L1238.96 188.89 L1241.97 187.87 L1244.98 186.88 L1247.99 185.92 L1251 184.99 L1254.01 184.09 L1257.02 183.22 L1260.03 182.38 L1263.04 181.56 L1266.05 180.78 L1269.06 180.02 L1272.07 179.29 L1275.08 178.59 L1278.09 177.91 L1281.1 177.27 L1284.11 176.65 L1287.12 176.05 L1290.13 175.48 L1293.14 174.94 L1296.15 174.43 L1299.16 173.94 L1302.17 173.47 L1305.18 173.03 L1308.19 172.61 L1311.2 172.22 L1314.21 171.86 L1317.22 171.51 L1320.23 171.19 L1323.24 170.9 L1326.25 170.63 L1329.26 170.38 L1332.27 170.15 L1335.28 169.94 L1338.29 169.76 L1341.3 169.6 L1344.31 169.46 L1347.32 169.35 L1350.33 169.25 L1353.34 169.17 L1356.35 169.12 L1359.36 169.08 L1362.37 169.07 L1365.38 169.08 L1368.39 169.1 L1371.4 169.15 L1374.4 169.22 L1377.41 169.31 L1380.42 169.43 L1383.43 169.59 L1386.44 169.78 L1389.45 170 L1392.46 170.26 L1395.47 170.57 L1398.48 170.92 L1401.49 171.32 L1404.5 171.76 L1407.51 172.26 L1410.52 172.82 L1413.53 173.43 L1416.54 174.11 L1419.55 174.84 L1422.56 175.65 L1425.57 176.52 L1428.58 177.47 L1431.59 178.49 L1434.6 179.58 L1437.61 180.76 L1440.62 182.01 L1443.63 183.33 L1446.64 184.72 L1449.65 186.19 L1452.66 187.71 L1455.67 189.3 L1458.68 190.95 L1461.69 192.66 L1464.7 194.42 L1472.6 188 L1478.9 182.5 L1485.2 173.8 L1489.2 165.1 L1493.5 153.5 L1498.5 134.5 L1503.5 111 L1512 50.5 L1517.7 0 L1518 -2" stroke="#f00" stroke-width="3.0" fill="none" stroke-dasharray="1.9 2.0"/>
</g>
<path d="M913.2 411 v-10 M913.2 0.6 v10 M952.92 411 v-5 M952.92 0.6 v5 M1005.42 411 v-5 M1005.42 0.6 v5 M1032.35 411 v-5 M1032.35 0.6 v5 M1045.14 411 v-10 M1045.14 0.6 v10 M1084.86 411 v-5 M1084.86 0.6 v5 M1137.36 411 v-5 M1137.36 0.6 v5 M1164.29 411 v-5 M1164.29 0.6 v5 M1177.08 411 v-10 M1177.08 0.6 v10 M1216.8 411 v-5 M1216.8 0.6 v5 M1269.3 411 v-5 M1269.3 0.6 v5 M1296.23 411 v-5 M1296.23 0.6 v5 M1309.02 411 v-10 M1309.02 0.6 v10 M1348.74 411 v-5 M1348.74 0.6 v5 M1401.24 411 v-5 M1401.24 0.6 v5 M1428.17 411 v-5 M1428.17 0.6 v5 M1440.96 411 v-10 M1440.96 0.6 v10 M1480.68 411 v-5 M1480.68 0.6 v5 M913.2 23.4 h5 M1520.4 23.4 h-5 M913.2 46.2 h10 M1520.4 46.2 h-10 M913.2 69 h5 M1520.4 69 h-5 M913.2 91.8 h5 M1520.4 91.8 h-5 M913.2 114.6 h5 M1520.4 114.6 h-5 M913.2 137.4 h10 M1520.4 137.4 h-10 M913.2 160.2 h5 M1520.4 160.2 h-5 M913.2 183 h5 M1520.4 183 h-5 M913.2 205.8 h5 M1520.4 205.8 h-5 M913.2 228.6 h10 M1520.4 228.6 h-10 M913.2 251.4 h5 M1520.4 251.4 h-5 M913.2 274.2 h5 M1520.4 274.2 h-5 M913.2 297 h5 M1520.4 297 h-5 M913.2 319.8 h10 M1520.4 319.8 h-10 M913.2 342.6 h5 M1520.4 342.6 h-5 M913.2 365.4 h5 M1520.4 365.4 h-5 M913.2 388.2 h5 M1520.4 388.2 h-5" stroke="#000" stroke-width="2" fill="none"/>
<rect x="913.2" y="0.6" width="607.2" height="410.4" fill="none" stroke="#1e1e1e" stroke-width="2.2"/>
<text transform="translate(900.6 56.7) scale(1 1.05)" text-anchor="end" style="font-family:'Liberation Sans',Arial,sans-serif;font-weight:bold;font-size:31.3px">0</text>
<text transform="translate(900.6 147.9) scale(1 1.05)" text-anchor="end" style="font-family:'Liberation Sans',Arial,sans-serif;font-weight:bold;font-size:31.3px">-10</text>
<text transform="translate(900.6 239.1) scale(1 1.05)" text-anchor="end" style="font-family:'Liberation Sans',Arial,sans-serif;font-weight:bold;font-size:31.3px">-20</text>
<text transform="translate(900.6 330.3) scale(1 1.05)" text-anchor="end" style="font-family:'Liberation Sans',Arial,sans-serif;font-weight:bold;font-size:31.3px">-30</text>
<text transform="translate(900.6 421.5) scale(1 1.05)" text-anchor="end" style="font-family:'Liberation Sans',Arial,sans-serif;font-weight:bold;font-size:31.3px">-40</text>
<text transform="translate(884.66 446.3) scale(1 1.05)" style="font-family:'Liberation Sans',Arial,sans-serif;font-weight:bold;font-size:31.3px">10<tspan dy="-14.29" style="font-size:25.04px">-5</tspan></text>
<text transform="translate(1016.6 446.3) scale(1 1.05)" style="font-family:'Liberation Sans',Arial,sans-serif;font-weight:bold;font-size:31.3px">10<tspan dy="-14.29" style="font-size:25.04px">-4</tspan></text>
<text transform="translate(1148.54 446.3) scale(1 1.05)" style="font-family:'Liberation Sans',Arial,sans-serif;font-weight:bold;font-size:31.3px">10<tspan dy="-14.29" style="font-size:25.04px">-3</tspan></text>
<text transform="translate(1280.48 446.3) scale(1 1.05)" style="font-family:'Liberation Sans',Arial,sans-serif;font-weight:bold;font-size:31.3px">10<tspan dy="-14.29" style="font-size:25.04px">-2</tspan></text>
<text transform="translate(1412.42 446.3) scale(1 1.05)" style="font-family:'Liberation Sans',Arial,sans-serif;font-weight:bold;font-size:31.3px">10<tspan dy="-14.29" style="font-size:25.04px">-1</tspan></text>
<text transform="translate(1144 497.6) scale(1 1.05)" style="font-family:'Liberation Sans',Arial,sans-serif;font-weight:bold;font-size:31.3px">n<tspan dy="8.48" style="font-size:25.04px">B</tspan><tspan dy="-8.48"> [1/fm</tspan><tspan dy="-14.48" style="font-size:25.04px">3</tspan><tspan dy="14.48">]</tspan></text>
<text transform="translate(818.4 308.4) rotate(-90) scale(1 1.05)" x="0" y="0" style="font-family:'Liberation Sans',Arial,sans-serif;font-weight:bold;font-size:31.3px;white-space:pre" xml:space="preserve">f/n<tspan dy="9.52" style="font-size:25.04px">B</tspan><tspan dy="-9.52">-M</tspan><tspan dy="9.52" style="font-size:25.04px">B</tspan><tspan dy="-9.52">  [MeV]</tspan></text>
<text transform="translate(1082.6 28.8) scale(1 1.05)" text-anchor="end" style="font-family:'Liberation Sans',Arial,sans-serif;font-size:21.7px">RMF T= 1 MeV</text>
<text transform="translate(1082.6 50.5) scale(1 1.05)" text-anchor="end" style="font-family:'Liberation Sans',Arial,sans-serif;font-size:21.7px">T= 3 MeV</text>
<text transform="translate(1082.6 72.2) scale(1 1.05)" text-anchor="end" style="font-family:'Liberation Sans',Arial,sans-serif;font-size:21.7px">T= 5 MeV</text>
<text transform="translate(1082.6 93.9) scale(1 1.05)" text-anchor="end" style="font-family:'Liberation Sans',Arial,sans-serif;font-size:21.7px">VM</text>
<path d="M1096.6 21.6 H1159" stroke="#000" stroke-width="3.0" fill="none"/>
<path d="M1096.6 43.3 H1159" stroke="#000" stroke-dasharray="6.4 2.9" stroke-width="3.0" fill="none"/>
<path d="M1096.6 65.2 H1159" stroke="#000" stroke-dasharray="2.0 2.2" stroke-width="3.0" fill="none"/>
<path d="M1096.6 87 H1159" stroke="#f00" stroke-width="3.0" fill="none"/>
<text transform="translate(1337.9 46.6) scale(1 1.05)" style="font-family:'Liberation Sans',Arial,sans-serif;font-size:21.7px">Y<tspan dy="6" style="font-size:17.36px">p</tspan><tspan dy="-6">=0.4</tspan></text>
<g fill="#fff"><g transform="matrix(1.0000 0.0000 0.0000 1.0500 105.4000 147.9000)"><rect x="-33.54" y="-4.29" width="6.03" height="5.19"/><rect x="-23.21" y="-4.29" width="5.64" height="5.19"/></g><g transform="matrix(1.0000 0.0000 0.0000 1.0500 89.4600 446.3000)"><rect x="1.27" y="-4.29" width="6.03" height="5.19"/><rect x="11.6" y="-4.29" width="5.64" height="5.19"/></g><g transform="matrix(1.0000 0.0000 0.0000 1.0500 221.4000 446.3000)"><rect x="1.27" y="-4.29" width="6.03" height="5.19"/><rect x="11.6" y="-4.29" width="5.64" height="5.19"/></g><g transform="matrix(1.0000 0.0000 0.0000 1.0500 353.3400 446.3000)"><rect x="1.27" y="-4.29" width="6.03" height="5.19"/><rect x="11.6" y="-4.29" width="5.64" height="5.19"/></g><g transform="matrix(1.0000 0.0000 0.0000 1.0500 485.2800 446.3000)"><rect x="1.27" y="-4.29" width="6.03" height="5.19"/><rect x="11.6" y="-4.29" width="5.64" height="5.19"/></g><g transform="matrix(1.0000 0.0000 0.0000 1.0500 617.2200 446.3000)"><rect x="1.27" y="-4.29" width="6.03" height="5.19"/><rect x="11.6" y="-4.29" width="5.64" height="5.19"/></g><g transform="matrix(1.0000 0.0000 0.0000 1.0500 617.2200 446.3000)"><rect x="44.02" y="-17.95" width="4.97" height="4.56"/><rect x="52.43" y="-17.95" width="4.65" height="4.56"/></g><g transform="matrix(1.0000 0.0000 0.0000 1.0500 348.8000 497.6000)"><rect x="57.59" y="-4.3" width="6.04" height="5.2"/><rect x="67.92" y="-4.3" width="5.64" height="5.2"/></g><g transform="matrix(1.0000 0.0000 0.0000 1.0500 287.4000 28.8000)"><rect x="-61.74" y="-2.72" width="4.5" height="3.62"/><rect x="-55.32" y="-2.72" width="4.33" height="3.62"/></g><g transform="matrix(1.0000 0.0000 0.0000 1.0500 900.6000 147.9000)"><rect x="-33.54" y="-4.29" width="6.03" height="5.19"/><rect x="-23.21" y="-4.29" width="5.64" height="5.19"/></g><g transform="matrix(1.0000 0.0000 0.0000 1.0500 884.6600 446.3000)"><rect x="1.27" y="-4.29" width="6.03" height="5.19"/><rect x="11.6" y="-4.29" width="5.64" height="5.19"/></g><g transform="matrix(1.0000 0.0000 0.0000 1.0500 1016.6000 446.3000)"><rect x="1.27" y="-4.29" width="6.03" height="5.19"/><rect x="11.6" y="-4.29" width="5.64" height="5.19"/></g><g transform="matrix(1.0000 0.0000 0.0000 1.0500 1148.5400 446.3000)"><rect x="1.27" y="-4.29" width="6.03" height="5.19"/><rect x="11.6" y="-4.29" width="5.64" height="5.19"/></g><g transform="matrix(1.0000 0.0000 0.0000 1.0500 1280.4800 446.3000)"><rect x="1.27" y="-4.29" width="6.03" height="5.19"/><rect x="11.6" y="-4.29" width="5.64" height="5.19"/></g><g transform="matrix(1.0000 0.0000 0.0000 1.0500 1412.4200 446.3000)"><rect x="1.27" y="-4.29" width="6.03" height="5.19"/><rect x="11.6" y="-4.29" width="5.64" height="5.19"/></g><g transform="matrix(1.0000 0.0000 0.0000 1.0500 1412.4200 446.3000)"><rect x="44.02" y="-17.95" width="4.97" height="4.56"/><rect x="52.43" y="-17.95" width="4.65" height="4.56"/></g><g transform="matrix(1.0000 0.0000 0.0000 1.0500 1144.0000 497.6000)"><rect x="57.59" y="-4.3" width="6.04" height="5.2"/><rect x="67.92" y="-4.3" width="5.64" height="5.2"/></g><g transform="matrix(1.0000 0.0000 0.0000 1.0500 1082.6000 28.8000)"><rect x="-61.74" y="-2.72" width="4.5" height="3.62"/><rect x="-55.32" y="-2.72" width="4.33" height="3.62"/></g></g>
</svg></body></html>
